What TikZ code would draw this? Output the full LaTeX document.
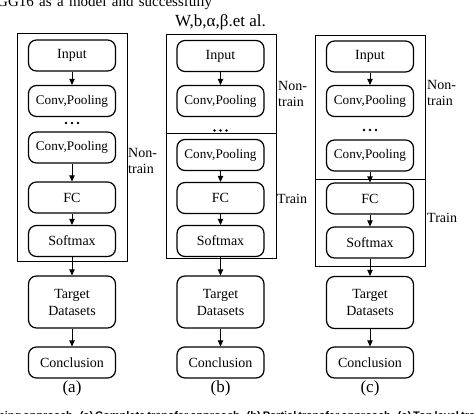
\documentclass[tikz,border=0pt]{standalone}
\usepackage{fontspec}
\setmainfont{Liberation Serif}
\newfontfamily\capfont{Liberation Sans}
\usetikzlibrary{arrows.meta}
\begin{document}
\begin{tikzpicture}[x=1pt,y=-1pt,
  blk/.style={draw, line width=1.25pt, rounded corners=8pt, minimum width=87pt, minimum height=31pt, inner sep=0pt, font=\fontsize{14}{17}\selectfont, align=center},
  tall/.style={blk, minimum height=52pt},
  conv/.style={blk, font=\fontsize{13.2}{16}\selectfont},
  grp/.style={draw, line width=0.8pt},
  arr/.style={line width=0.9pt, -{Triangle[length=6pt,width=5.5pt]}},
  lab/.style={font=\fontsize{14}{16}\selectfont, align=left, anchor=west, inner sep=0pt},
  sub/.style={font=\fontsize{17}{19}\selectfont, inner sep=0pt},
  dot/.style={fill, circle, inner sep=0pt, minimum size=2.6pt}
]
\useasboundingbox (0,0) rectangle (474,414);
\clip (0,0) rectangle (474,414);

% cropped surrounding text
\node[anchor=base west, inner sep=0pt, font=\fontsize{15}{17}\selectfont] (toptext) at (-3,7) {\makebox[215pt][s]{GG16 as a model and successfully}};
\node[anchor=base west, inner sep=0pt, font=\capfont\bfseries\fontsize{11}{13}\selectfont] (captext) at (-2,419) {\makebox[480pt][s]{ning approach. (a) Complete transfer approach. (b) Partial transfer approach. (c) Top level transfer approach}};

% ---------- (a) ----------
\draw[grp] (17,33) rectangle (127,261);
\node[blk]  (aIn) at (72,55.5) {Input};
\node[conv] (aC1) at (72,101) {Conv,Pooling};
\node[dot] (ad1) at (66,123) {}; \node[dot] (ad2) at (72,123) {}; \node[dot] (ad3) at (78,123) {};
\node[conv] (aC2) at (72,147.5) {Conv,Pooling};
\node[blk]  (aFC) at (72,197.5) {FC};
\node[blk]  (aSm) at (72,241) {Softmax};
\node[tall] (aTd) at (72,302) {Target\\Datasets};
\node[blk]  (aCo) at (72,362.5) {Conclusion};
\node[sub]  (aL) at (72,388) {(a)};
\node[lab]  (aNt) at (128,161) {Non-\\train};
\draw[arr] (aIn) -- (aC1);
\draw[arr] (aC2) -- (aFC);
\draw[arr] (aFC) -- (aSm);
\draw[arr] (aSm) -- (aTd);
\draw[arr] (aTd) -- (aCo);

% ---------- (b) ----------
\node[sub] (bW) at (220.5,22) {W,b,α,β.et al.};
\draw[grp] (166,34) rectangle (276,258);
\draw[grp] (166,133) -- (276,133);
\node[blk]  (bIn) at (220.5,56) {Input};
\node[conv] (bC1) at (220.5,101) {Conv,Pooling};
\node[dot] (bd1) at (214.5,130.5) {}; \node[dot] (bd2) at (220.5,130.5) {}; \node[dot] (bd3) at (226.5,130.5) {};
\node[conv] (bC2) at (220.5,155) {Conv,Pooling};
\node[blk]  (bFC) at (220.5,198) {FC};
\node[blk]  (bSm) at (220.5,241) {Softmax};
\node[tall] (bTd) at (220.5,302) {Target\\Datasets};
\node[blk]  (bCo) at (220.5,362.5) {Conclusion};
\node[sub]  (bL) at (220.5,388) {(b)};
\node[lab]  (bNt) at (278,94) {Non-\\train};
\node[lab]  (bTr) at (277,199) {Train};
\draw[arr] (bIn) -- (bC1);
\draw[arr] (bC2) -- (bFC);
\draw[arr] (bFC) -- (bSm);
\draw[arr] (bSm) -- (bTd);
\draw[arr] (bTd) -- (bCo);

% ---------- (c) ----------
\draw[grp] (315,35) rectangle (425,266);
\draw[grp] (315,179) -- (425,179);
\node[blk]  (cIn) at (370,56.5) {Input};
\node[conv] (cC1) at (370,101) {Conv,Pooling};
\node[dot] (cd1) at (364,130) {}; \node[dot] (cd2) at (370,130) {}; \node[dot] (cd3) at (376,130) {};
\node[conv] (cC2) at (370,155.5) {Conv,Pooling};
\node[blk]  (cFC) at (370,198.5) {FC};
\node[blk]  (cSm) at (370,242.5) {Softmax};
\node[tall] (cTd) at (370,302.5) {Target\\Datasets};
\node[blk]  (cCo) at (370,362.5) {Conclusion};
\node[sub]  (cL) at (370,388) {(c)};
\node[lab]  (cNt) at (427,93) {Non-\\train};
\node[lab]  (cTr) at (427,218) {Train};
\draw[arr] (cIn) -- (cC1);
\draw[arr] (cC2) -- (cFC);
\draw[arr] (cFC) -- (cSm);
\draw[arr] (cSm) -- (cTd);
\draw[arr] (cTd) -- (cCo);
\end{tikzpicture}
\end{document}
